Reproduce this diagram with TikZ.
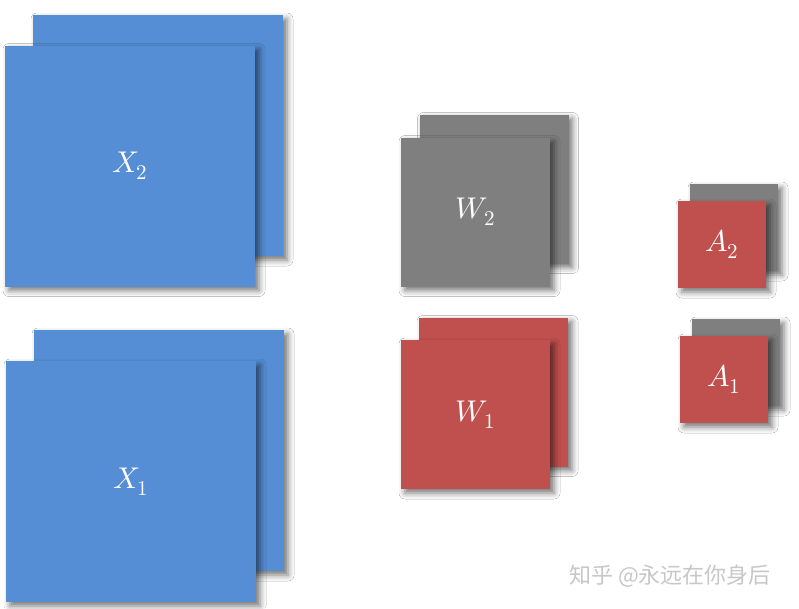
\documentclass[tikz,border=0pt]{standalone}
\usepackage{fontspec}
\usepackage{unicode-math}
\setmathfont{Latin Modern Math}
\newfontfamily\cjk{Noto Sans CJK SC}
\usepackage{tikz}
\usetikzlibrary{shadows.blur,positioning}
\definecolor{xblue}{RGB}{85,142,213}
\definecolor{wgray}{RGB}{127,127,127}
\definecolor{ared}{RGB}{192,80,77}

\begin{document}
\begin{tikzpicture}[x=1pt,y=-1pt,
  sq/.style={rectangle,inner sep=0pt,text=white,font=\fontsize{30}{34}\selectfont,
    blur shadow={shadow xshift=4pt,shadow yshift=-4pt,shadow blur radius=6pt,shadow opacity=55}},
  big/.style={sq,fill=xblue,minimum width=250pt,minimum height=241pt},
  mid/.style={sq,minimum width=149pt,minimum height=149pt},
  small/.style={sq,minimum width=88pt,minimum height=87pt}]
\fill[white] (0,0) rectangle (799,608);
\useasboundingbox (0,0) rectangle (799,608);
% inputs
\node[big] (X2b) at (158,135.5) {};
\node[big] (X2) at (130,166) {$X_2$};
\node[big] (X1b) at (159,450.5) {};
\node[big] (X1) at (131,481.5) {$X_1$};
% weights
\node[mid,fill=wgray] (W2b) at (494,189) {};
\node[mid,fill=wgray] (W2) at (475.5,212) {$W_2$};
\node[mid,fill=ared] (W1b) at (493.5,392) {};
\node[mid,fill=ared] (W1) at (475.5,414.5) {$W_1$};
% outputs
\node[small,fill=wgray] (A2b) at (734,227.5) {};
\node[small,fill=ared] (A2) at (722,244.5) {$A_2$};
\node[small,fill=wgray] (A1b) at (736,362.5) {};
\node[small,fill=ared] (A1) at (724,379.5) {$A_1$};
\node[text=black!22,font=\cjk\fontsize{22}{26}\selectfont] (mark) at (670,576) {知乎 @永远在你身后};
\end{tikzpicture}
\end{document}
